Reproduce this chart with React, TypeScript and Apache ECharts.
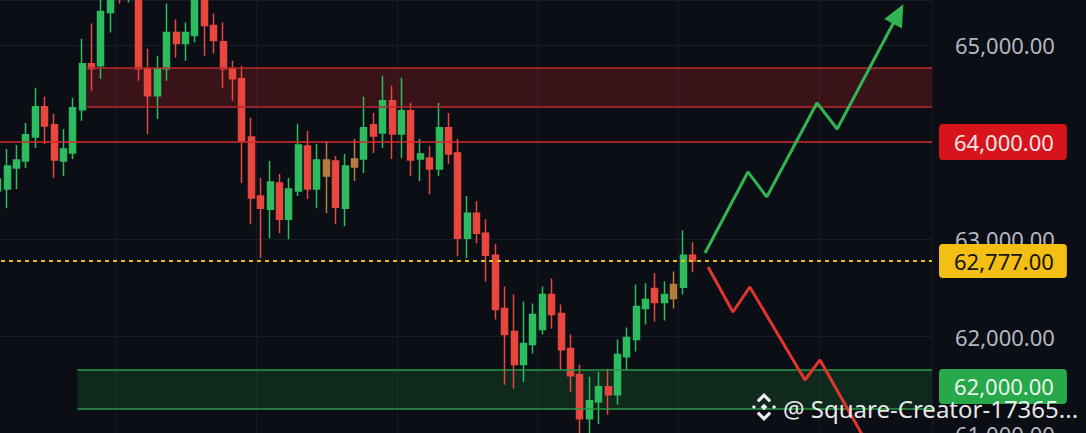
import React, { useEffect, useRef } from "react";
import * as echarts from "echarts";

// ---- data ----
const categoryCount = 100;
const categories: string[] = Array.from({ length: categoryCount }, (_, i) => String(i));

// [open, close, low, high]
const candles: number[][] = [
  [63496, 63620, 63393, 63702],
  [63517, 63754, 63321, 63929],
  [63733, 63816, 63517, 63970],
  [63805, 64074, 63733, 64197],
  [64053, 64362, 63939, 64558],
  [64362, 64166, 63981, 64465],
  [64177, 63816, 63630, 64290],
  [63805, 63929, 63651, 64135],
  [63888, 64352, 63826, 64455],
  [64331, 64805, 64218, 65063],
  [64805, 64754, 64527, 65218],
  [64785, 65342, 64651, 65500],
  [65331, 65600, 65125, 65700],
  [65620, 65480, 65424, 65700],
  [65700, 65900, 65434, 65950],
  [65700, 64754, 64630, 65800],
  [64754, 64476, 64084, 64960],
  [64476, 64754, 64238, 64888],
  [64754, 65125, 64630, 65424],
  [65125, 65012, 64867, 65259],
  [65012, 65125, 64836, 65228],
  [65094, 65520, 65022, 65600],
  [65500, 65197, 64888, 65560],
  [65197, 65043, 64909, 65321],
  [65032, 64754, 64558, 65228],
  [64754, 64651, 64424, 64836],
  [64651, 64012, 63579, 64785],
  [64053, 63424, 63156, 64249],
  [63445, 63321, 62805, 63630],
  [63310, 63589, 63012, 63805],
  [63579, 63207, 63063, 63671],
  [63207, 63517, 63002, 63630],
  [63496, 63970, 63445, 64187],
  [63960, 63517, 63414, 64115],
  [63517, 63816, 63321, 63981],
  [63816, 63651, 63269, 64012],
  [63805, 63331, 63156, 63857],
  [63321, 63754, 63135, 63878],
  [63826, 63744, 63599, 64032],
  [63826, 64146, 63682, 64465],
  [64177, 64063, 63888, 64300],
  [64094, 64424, 63939, 64682],
  [64424, 64084, 63826, 64579],
  [64084, 64321, 63836, 64661],
  [64321, 63816, 63651, 64403],
  [63826, 63878, 63599, 64032],
  [63836, 63723, 63465, 63960],
  [63723, 64146, 63651, 64403],
  [64146, 63878, 63774, 64300],
  [63888, 63012, 62826, 64032],
  [63012, 63269, 62805, 63445],
  [63269, 63063, 62960, 63393],
  [63063, 62836, 62568, 63207],
  [62836, 62280, 62176, 62950],
  [62290, 62022, 61506, 62517],
  [62053, 61713, 61465, 62434],
  [61713, 61929, 61537, 62362],
  [61919, 62228, 61826, 62341],
  [62074, 62434, 62022, 62517],
  [62434, 62228, 62084, 62599],
  [62238, 61867, 61661, 62331],
  [61878, 61599, 61434, 62022],
  [61609, 61156, 60919, 61712],
  [61156, 61341, 60919, 61589],
  [61331, 61486, 61104, 61640],
  [61486, 61403, 61197, 61671],
  [61403, 61816, 61300, 61970],
  [61795, 61991, 61661, 62094],
  [61970, 62310, 61847, 62537],
  [62290, 62383, 62125, 62548],
  [62496, 62352, 62156, 62651],
  [62352, 62434, 62166, 62568],
  [62393, 62537, 62290, 62671],
  [62507, 62836, 62434, 63094],
  [62836, 62777, 62661, 62970],
];
const brownCandles: number[] = [35, 38, 72];

const yTicks = { min: 61000, max: 65460, step: 1000 };
const resistanceLevel = 64000;
const resistanceLabel = "64,000.00";
const currentPrice = 62777;
const currentLabel = "62,777.00";
const redZone = { from: 9.5, to: 99.5, low: 64360, high: 64760 };
const greenZone = { from: 8.5, to: 99.5, low: 61255, high: 61660 };
const greenZoneLabel = "62,000.00";

// projected paths [category position, price]
const bullPath: number[][] = [
  [75.33, 62860],
  [79.9, 63693],
  [81.9, 63436],
  [87.25, 64402],
  [89.4, 64134],
  [95.9, 65316],
];
const bearPath: number[][] = [
  [75.65, 62716],
  [78.3, 62254],
  [80.1, 62511],
  [85.97, 61555],
  [87.57, 61761],
  [93.1, 60815],
];

const watermark = "@ Square-Creator-17365...";

// ---- style ----
const BG = "#0b0e15";
const UP = "#2dbb5f";
const DOWN = "#e8463e";
const BROWN = "#b27d3f";
const FONT = "Noto Sans";

const fmt = (v: number) =>
  v.toLocaleString("en-US", { minimumFractionDigits: 2, maximumFractionDigits: 2 });

export default function App() {
  const ref = useRef<HTMLDivElement>(null);

  useEffect(() => {
    if (!ref.current) return;
    const chart = echarts.init(ref.current, null, { renderer: "svg" });

    const candleData = candles.map((c, i) =>
      brownCandles.includes(i)
        ? {
            value: c,
            itemStyle: { color: BROWN, color0: BROWN, borderColor: BROWN, borderColor0: BROWN },
          }
        : c
    );

    const lineData = (path: number[][], arrow: boolean) =>
      path.map((p, i) =>
        arrow && i === path.length - 1
          ? { value: p, symbol: "triangle", symbolSize: [20, 22], symbolRotate: -28 }
          : { value: p, symbol: "none" }
      );

    const s = 14;
    const cx = 764;
    const cy = 407;
    const poly = (pts: number[][]) => ({
      type: "polygon",
      shape: { points: pts.map(([x, y]) => [cx + x * s, cy + y * s]) },
      style: { fill: "#ffffff", opacity: 0.92 },
      z: 100,
    });

    const tagLabel = (text: string, bg: string, fg: string, pad: number[]) => ({
      show: true,
      position: "end",
      distance: 7,
      formatter: text,
      color: fg,
      backgroundColor: bg,
      fontSize: 22,
      fontFamily: FONT,
      padding: pad,
      borderRadius: 4,
    });

    chart.setOption({
      animation: false,
      backgroundColor: BG,
      grid: {
        left: -7,
        right: 154,
        top: 0,
        bottom: -1,
        containLabel: false,
        outerBoundsMode: "none",
      },
      xAxis: [
        {
          type: "category",
          data: categories,
          boundaryGap: true,
          axisLine: { show: false },
          axisTick: { show: false },
          axisLabel: { show: false },
          splitLine: {
            show: true,
            interval: (idx: number) => idx % 15 === 13,
            lineStyle: { color: "#151a24", width: 1 },
          },
        },
        { type: "value", min: -0.5, max: 99.5, show: false },
      ],
      yAxis: {
        type: "value",
        position: "right",
        min: yTicks.min,
        max: yTicks.max,
        interval: yTicks.step,
        axisLine: { show: true, lineStyle: { color: "#1a1f2a" } },
        axisTick: { show: false },
        splitLine: { lineStyle: { color: "#181d27", width: 1 } },
        axisLabel: {
          margin: 23,
          color: "#b3b8c2",
          fontSize: 22,
          fontFamily: FONT,
          formatter: (v: number) => (v % yTicks.step === 0 ? fmt(v) : ""),
        },
      },
      series: [
        {
          type: "line",
          name: "zones",
          xAxisIndex: 1,
          data: [],
          z: 1,
          markArea: {
            silent: true,
            data: [
              [
                {
                  coord: [redZone.from, redZone.high],
                  itemStyle: { color: "rgba(160,30,35,0.32)" },
                  label: { show: false },
                },
                { coord: [redZone.to, redZone.low] },
              ],
              [
                {
                  coord: [greenZone.from, greenZone.high],
                  itemStyle: { color: "rgba(30,140,60,0.22)" },
                  label: {
                    show: true,
                    position: "right",
                    distance: 7,
                    offset: [0, -3],
                    formatter: greenZoneLabel,
                    color: "#eaf6ec",
                    backgroundColor: "#27a84b",
                    fontSize: 22,
                    fontFamily: FONT,
                    padding: [7, 13, 6, 15],
                    borderRadius: 4,
                  },
                },
                { coord: [greenZone.to, greenZone.low] },
              ],
            ],
          },
          markLine: {
            silent: true,
            symbol: "none",
            label: { show: false },
            data: [
              [
                { coord: [redZone.from, redZone.high], lineStyle: { color: "#b8292c", width: 1.5, type: "solid" } },
                { coord: [redZone.to, redZone.high] },
              ],
              [
                { coord: [redZone.from, redZone.low], lineStyle: { color: "#b8292c", width: 1.5, type: "solid" } },
                { coord: [redZone.to, redZone.low] },
              ],
              [
                { coord: [greenZone.from, greenZone.high], lineStyle: { color: "#2a9a48", width: 1.5, type: "solid" } },
                { coord: [greenZone.to, greenZone.high] },
              ],
              [
                { coord: [greenZone.from, greenZone.low], lineStyle: { color: "#2a9a48", width: 1.5, type: "solid" } },
                { coord: [greenZone.to, greenZone.low] },
              ],
            ],
          },
        },
        {
          type: "candlestick",
          name: "BTC",
          xAxisIndex: 0,
          data: candleData,
          barWidth: 6.5,
          z: 3,
          itemStyle: {
            color: UP,
            color0: DOWN,
            borderColor: UP,
            borderColor0: DOWN,
            borderWidth: 1.5,
          },
          markLine: {
            silent: true,
            symbol: "none",
            data: [
              {
                yAxis: resistanceLevel,
                lineStyle: { color: "#d42a2a", width: 1.5, type: "solid" },
                label: tagLabel(resistanceLabel, "#d7141c", "#f5e6e6", [7, 13, 7, 15]),
              },
              {
                yAxis: currentPrice,
                lineStyle: { color: "#e8c21c", width: 2, type: [4, 4] },
                label: tagLabel(currentLabel, "#f3bf14", "#17130a", [6, 13, 6, 15]),
              },
            ],
          },
        },
        {
          type: "line",
          name: "bull",
          xAxisIndex: 1,
          data: lineData(bullPath, true),
          showSymbol: true,
          lineStyle: { color: "#30b552", width: 3 },
          itemStyle: { color: "#30b552" },
          z: 6,
        },
        {
          type: "line",
          name: "bear",
          xAxisIndex: 1,
          data: lineData(bearPath, false),
          showSymbol: true,
          lineStyle: { color: "#e0352f", width: 3 },
          itemStyle: { color: "#e0352f" },
          z: 6,
        },
      ],
      graphic: [
        poly([[0, -1], [0.52, -0.48], [0.36, -0.32], [0, -0.68], [-0.36, -0.32], [-0.52, -0.48]]),
        poly([[0, 1], [0.52, 0.48], [0.36, 0.32], [0, 0.68], [-0.36, 0.32], [-0.52, 0.48]]),
        poly([[0, -0.24], [0.24, 0], [0, 0.24], [-0.24, 0]]),
        poly([[-0.72, -0.15], [-0.57, 0], [-0.72, 0.15], [-0.87, 0]]),
        poly([[0.72, -0.15], [0.87, 0], [0.72, 0.15], [0.57, 0]]),
        {
          type: "text",
          x: 783,
          y: 408,
          z: 100,
          style: {
            text: watermark,
            fill: "#ffffff",
            opacity: 0.92,
            font: `24px "${FONT}"`,
            textVerticalAlign: "middle",
            verticalAlign: "middle",
            shadowColor: "rgba(0,0,0,0.6)",
            shadowBlur: 4,
          },
        },
      ],
    });

    return () => chart.dispose();
  }, []);

  return (
    <div
      ref={ref}
      style={{ position: "fixed", left: 0, top: 0, width: 1086, height: 433, background: BG }}
    />
  );
}
